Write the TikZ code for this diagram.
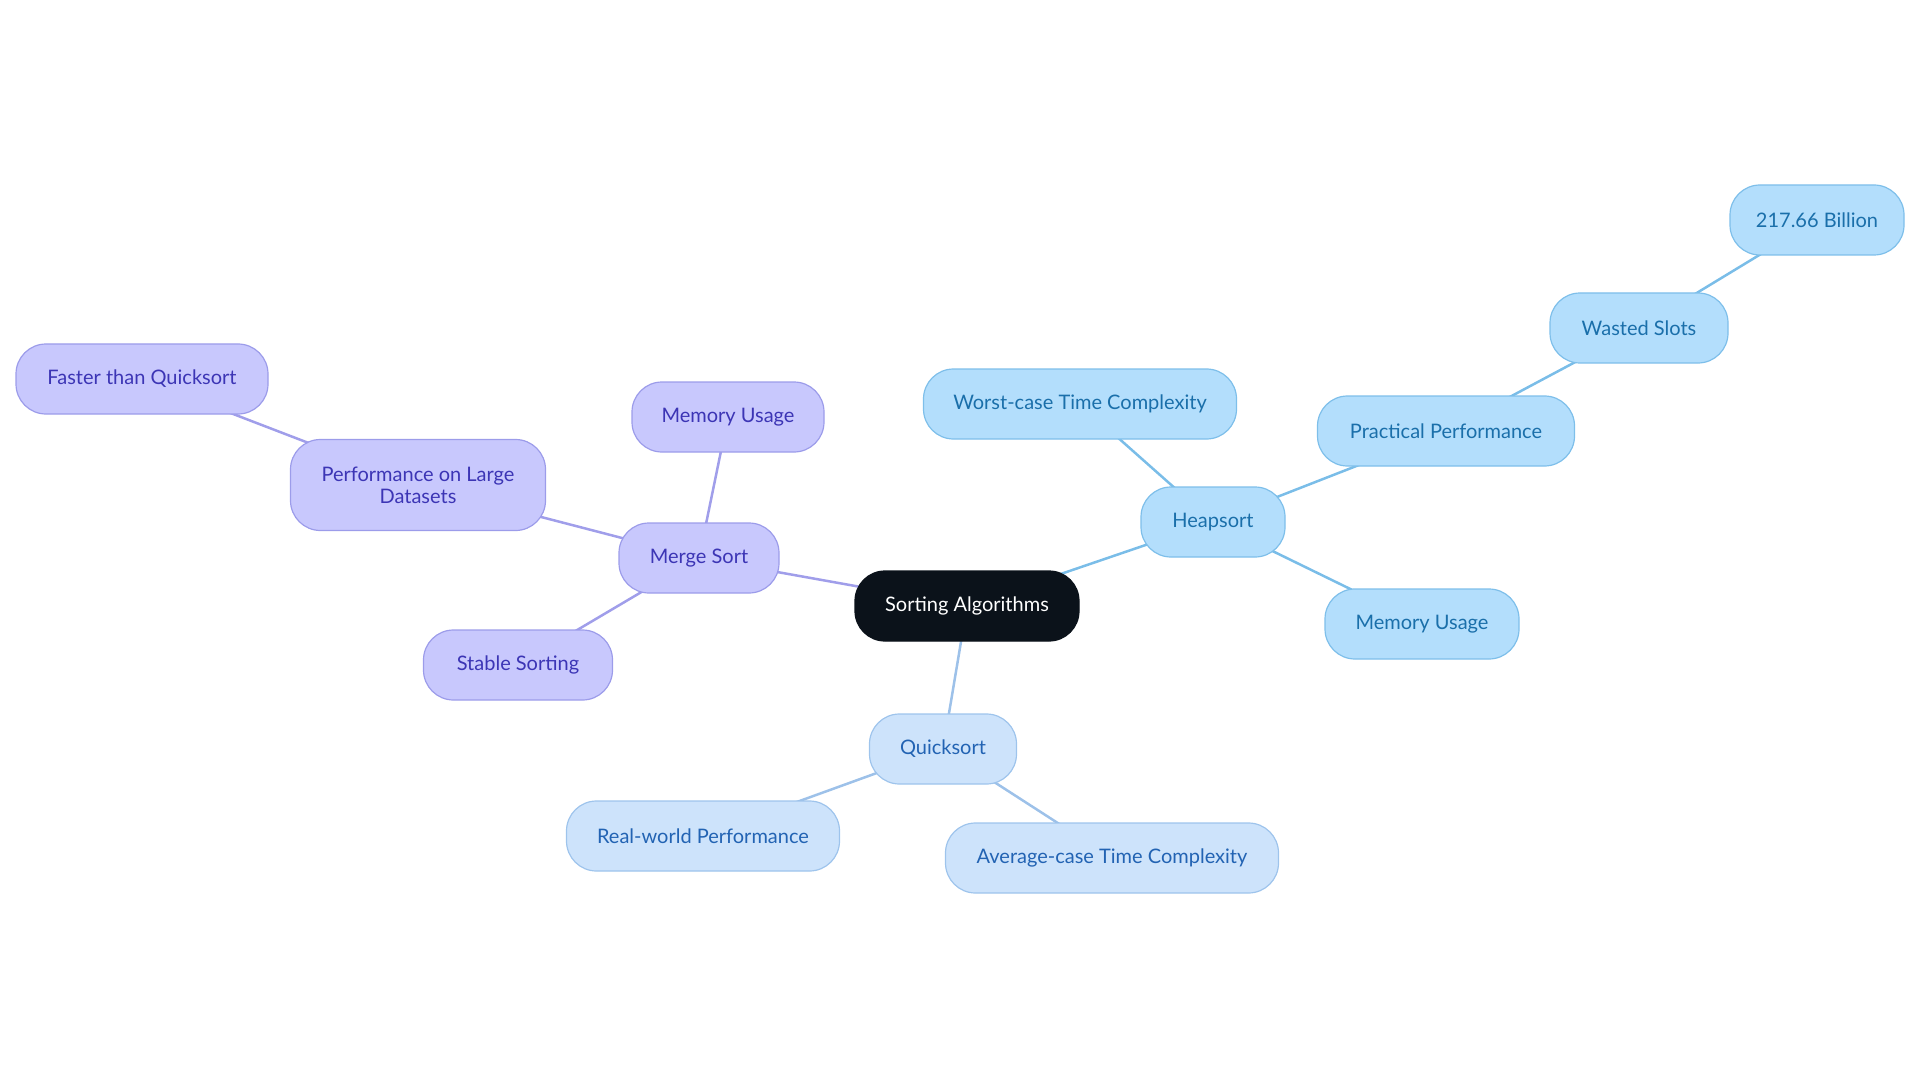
\documentclass[tikz,border=0pt]{standalone}
\usepackage{fontspec}
\setmainfont{Lato}
\usetikzlibrary{backgrounds}
\definecolor{rootfill}{HTML}{0B121A}
\definecolor{purfill}{HTML}{C8C8FD}
\definecolor{purdraw}{HTML}{9C9CEA}
\definecolor{purtext}{HTML}{3C35B5}
\definecolor{purline}{HTML}{A09EEA}
\definecolor{hpfill}{HTML}{B3DEFC}
\definecolor{hpdraw}{HTML}{7EBFEA}
\definecolor{hptext}{HTML}{1A6FAA}
\definecolor{hpline}{HTML}{7ABDE8}
\definecolor{qsfill}{HTML}{CDE3FB}
\definecolor{qsdraw}{HTML}{9EC4EC}
\definecolor{qstext}{HTML}{2263B3}
\definecolor{qsline}{HTML}{9DC1E9}
\tikzset{
  x=1pt, y=-1pt,
  base/.style={rounded corners=30pt, minimum height=70pt, inner sep=0pt, line width=1.2pt, align=center, font=\fontsize{20}{22}\selectfont},
  rootnode/.style={base, fill=rootfill, draw=rootfill, text=white},
  purnode/.style={base, fill=purfill, draw=purdraw, text=purtext},
  hpnode/.style={base, fill=hpfill, draw=hpdraw, text=hptext},
  qsnode/.style={base, fill=qsfill, draw=qsdraw, text=qstext},
  purlink/.style={draw=purline, line width=2.5pt},
  hplink/.style={draw=hpline, line width=2.5pt},
  qslink/.style={draw=qsline, line width=2.5pt}
}
\begin{document}
\begin{tikzpicture}
\useasboundingbox (0,0) rectangle (1920,1083);
\node[rootnode, minimum width=224pt] (root) at (967,606) {Sorting Algorithms};
\node[hpnode, minimum width=144pt] (heap) at (1213,522) {Heapsort};
\node[hpnode, minimum width=313pt] (worst) at (1080,404) {Worst-case Time Complexity};
\node[hpnode, minimum width=257pt] (prac) at (1446,431) {Practical Performance};
\node[hpnode, minimum width=178pt] (wasted) at (1639,328) {Wasted Slots};
\node[hpnode, minimum width=174pt] (bill) at (1817,220) {217.66 Billion};
\node[hpnode, minimum width=194pt] (hmem) at (1422,624) {Memory Usage};
\node[qsnode, minimum width=147pt] (quick) at (943,749) {Quicksort};
\node[qsnode, minimum width=273pt] (real) at (703,836) {Real-world Performance};
\node[qsnode, minimum width=333pt] (avg) at (1112,858) {Average-case Time Complexity};
\node[purnode, minimum width=160pt] (merge) at (699,558) {Merge Sort};
\node[purnode, minimum width=192pt] (mmem) at (728,417) {Memory Usage};
\node[purnode, minimum width=255pt, minimum height=91pt] (large) at (418,485) {Performance on Large\\Datasets};
\node[purnode, minimum width=252pt] (faster) at (142,379) {Faster than Quicksort};
\node[purnode, minimum width=189pt] (stable) at (518,665) {Stable Sorting};
\begin{scope}[on background layer]
\draw[hplink] (root.center) -- (heap.center);
\draw[hplink] (heap.center) -- (worst.center);
\draw[hplink] (heap.center) -- (prac.center);
\draw[hplink] (prac.center) -- (wasted.center);
\draw[hplink] (wasted.center) -- (bill.center);
\draw[hplink] (heap.center) -- (hmem.center);
\draw[qslink] (root.center) -- (quick.center);
\draw[qslink] (quick.center) -- (real.center);
\draw[qslink] (quick.center) -- (avg.center);
\draw[purlink] (root.center) -- (merge.center);
\draw[purlink] (merge.center) -- (mmem.center);
\draw[purlink] (merge.center) -- (large.center);
\draw[purlink] (large.center) -- (faster.center);
\draw[purlink] (merge.center) -- (stable.center);
\end{scope}
\end{tikzpicture}
\end{document}
